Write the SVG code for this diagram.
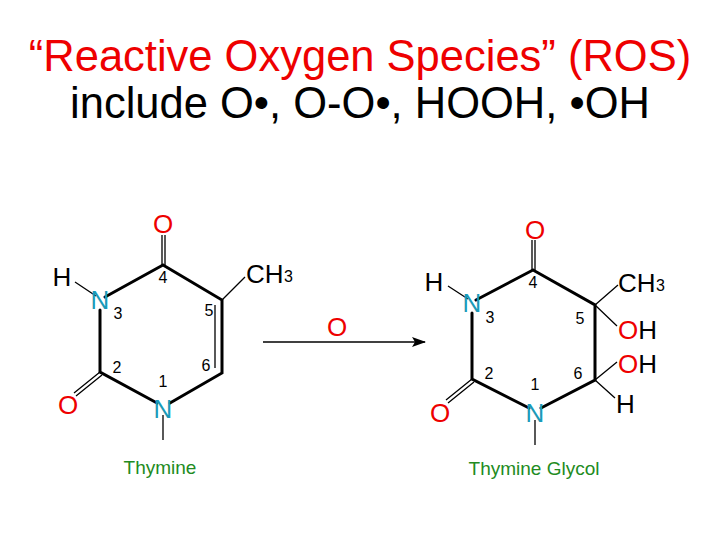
<svg xmlns="http://www.w3.org/2000/svg" width="720" height="540" viewBox="0 0 720 540">
<style>
text{font-family:"Liberation Sans",Arial,sans-serif}
.t{font-size:43.5px;text-anchor:middle}
.b{stroke:#000;stroke-width:3;fill:none;stroke-linecap:round}
.th{stroke:#000;stroke-width:1.3;fill:none}
.a{font-size:26px;text-anchor:middle}
.n{font-size:16px;text-anchor:middle;fill:#000}
.r{fill:#e00}.c{fill:#1a9ab8}.k{fill:#000}
.g{font-size:19px;fill:#228b22;text-anchor:middle}
</style>
<defs><marker id="ah" markerWidth="14" markerHeight="10" refX="13" refY="5" orient="auto" markerUnits="userSpaceOnUse"><path d="M0,0L14,5L0,10L3,5z" fill="#000"/></marker></defs>
<text class="t r" x="360" y="71">“Reactive Oxygen Species” (ROS)</text>
<text class="t k" x="360" y="118">include O•, O-O•, HOOH, •OH</text>
<g id="thymine">
<path class="b" d="M163,265L105,297M100,310L100,372L157,403M170,403L222,373L222,300L163,265"/>
<path class="th" d="M162,265L162,235M165,265L165,235M215,305L215,368M100,372L74,393M102,375L76,396M222,300L245,277M163,415L163,440M96,296L75,282"/>
<text class="a r" x="163" y="233">O</text>
<text class="a r" x="68" y="414">O</text>
<text class="a k" x="62" y="286">H</text>
<text class="a c" x="100" y="309">N</text><text class="n" x="118" y="319">3</text>
<text class="a c" x="163" y="418">N</text><text class="n" x="163" y="387">1</text>
<text class="a k" x="246" y="283" style="text-anchor:start">CH</text><text class="n" x="284" y="282" style="text-anchor:start">3</text>
<text class="n" x="163" y="283">4</text><text class="n" x="209" y="316">5</text>
<text class="n" x="206" y="371">6</text><text class="n" x="117" y="373">2</text>
<text class="g" x="160" y="474">Thymine</text>
</g>
<g id="connectors">
<line x1="263" y1="342" x2="425" y2="342" stroke="#000" stroke-width="1.5" marker-end="url(#ah)"/>
<text class="a r" x="337" y="336">O</text>
</g>
<g id="glycol">
<path class="b" d="M533,270L476,300M472,313L472,379L529,408M541,408L595,380L595,305L533,270"/>
<path class="th" d="M532,270L532,240M535,270L535,240M472,379L446,400M474,382L448,403M595,305L618,285M595,305L617,326M595,380L617,362M595,380L615,398M535,420L535,445M468,299L448,286"/>
<text class="a r" x="535" y="239">O</text>
<text class="a r" x="440" y="422">O</text>
<text class="a k" x="434" y="291">H</text>
<text class="a c" x="472" y="312">N</text><text class="n" x="490" y="323">3</text>
<text class="a c" x="535" y="422">N</text><text class="n" x="535" y="390">1</text>
<text class="a k" x="618" y="292" style="text-anchor:start">CH</text><text class="n" x="656" y="291" style="text-anchor:start">3</text>
<text class="a" x="618" y="339" style="text-anchor:start"><tspan class="r">O</tspan><tspan class="k">H</tspan></text>
<text class="a" x="618" y="373" style="text-anchor:start"><tspan class="r">O</tspan><tspan class="k">H</tspan></text>
<text class="a k" x="616" y="413" style="text-anchor:start">H</text>
<text class="n" x="533" y="288">4</text><text class="n" x="580" y="324">5</text>
<text class="n" x="578" y="379">6</text><text class="n" x="489" y="379">2</text>
<text class="g" x="534" y="475">Thymine Glycol</text>
</g>
</svg>
